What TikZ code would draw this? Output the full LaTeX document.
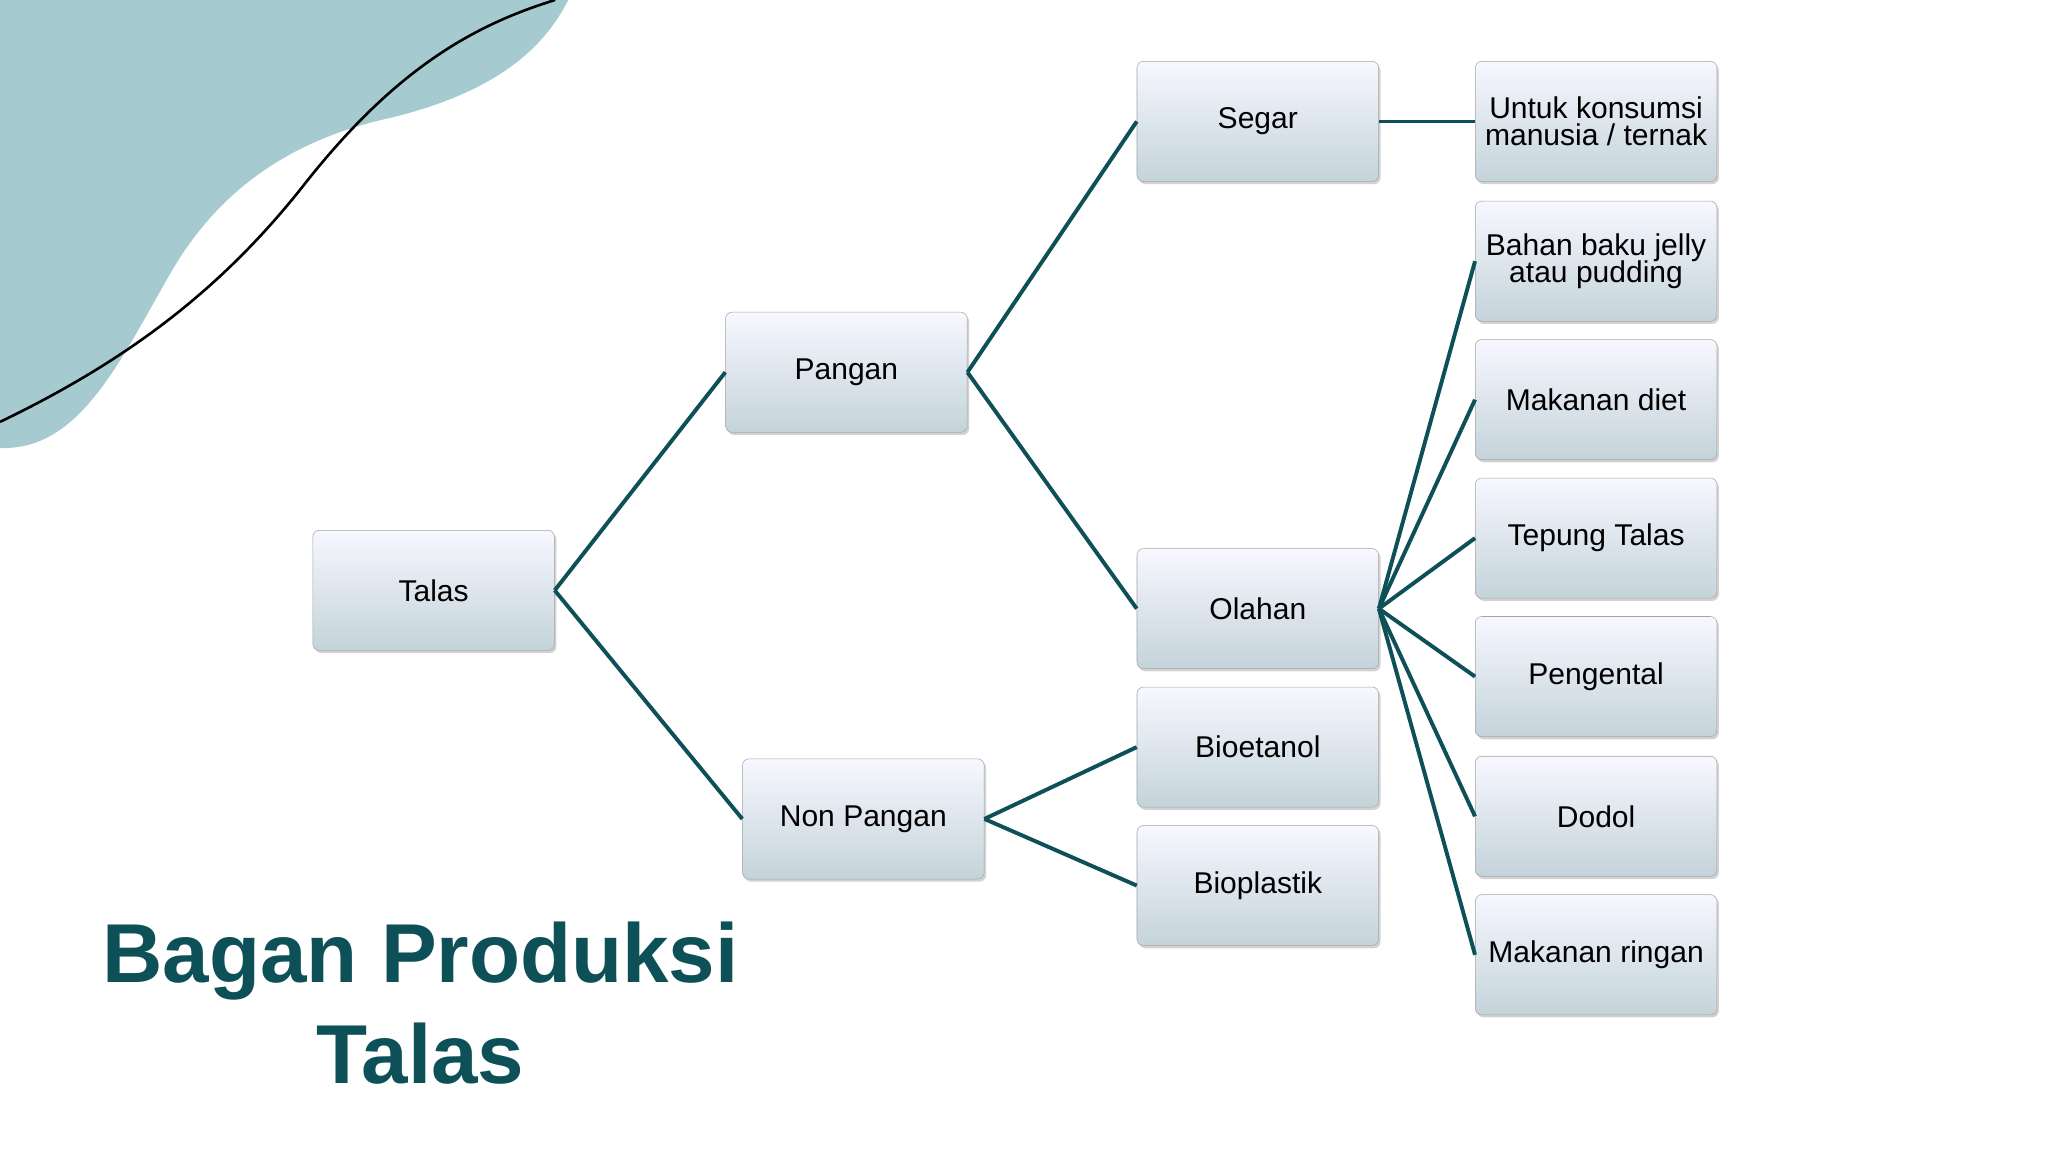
\documentclass[tikz,border=0pt]{standalone}
\usepackage{fontspec}
\setmainfont{Liberation Sans}
\usetikzlibrary{shadows}
\definecolor{teal1}{HTML}{0D5058}
\definecolor{blob}{HTML}{A5CBD0}
\begin{document}
\begin{tikzpicture}[x=1pt,y=-1pt,
 box/.style={draw=gray!70,rounded corners=5pt,minimum width=185pt,minimum height=92pt,top color=white!97!blue,bottom color={rgb,255:red,196;green,211;blue,218},drop shadow={shadow xshift=1.5pt,shadow yshift=-2pt,opacity=0.35},font=\fontsize{23}{25}\selectfont,align=center,inner sep=2pt},
 con/.style={draw=teal1,line width=3pt}]
\useasboundingbox (0,0) rectangle (1568,882);
\fill[white] (0,0) rectangle (1568,882);
\fill[blob] (0,0) -- (435,0) .. controls (410,50) and (360,75) .. (300,90) .. controls (230,105) and (170,140) .. (130,210) .. controls (90,280) and (60,345) .. (0,343) -- cycle;
\draw[black,line width=2pt] (0,323) .. controls (100,275) and (170,220) .. (230,145) .. controls (300,55) and (360,20) .. (425,0);
\node[box] (talas) at (332,452) {Talas};
\node[box] (pangan) at (648,285) {Pangan};
\node[box] (non) at (661,627) {Non Pangan};
\node[box] (segar) at (963,93) {Segar};
\node[box] (olahan) at (963,466) {Olahan};
\node[box] (bioe) at (963,572) {Bioetanol};
\node[box] (biop) at (963,678) {Bioplastik};
\node[box] (r1) at (1222,93) {Untuk konsumsi\\[-4pt]manusia / ternak};
\node[box] (r2) at (1222,200) {Bahan baku jelly\\[-4pt]atau pudding};
\node[box] (r3) at (1222,306) {Makanan diet};
\node[box] (r4) at (1222,412) {Tepung Talas};
\node[box] (r5) at (1222,518) {Pengental};
\node[box] (r6) at (1222,625) {Dodol};
\node[box] (r7) at (1222,731) {Makanan ringan};
\draw[con] (talas.east) -- (pangan.west);
\draw[con] (talas.east) -- (non.west);
\draw[con] (pangan.east) -- (segar.west);
\draw[con] (pangan.east) -- (olahan.west);
\draw[con] (non.east) -- (bioe.west);
\draw[con] (non.east) -- (biop.west);
\draw[con] (segar.east) -- (r1.west);
\foreach \r in {r2,r3,r4,r5,r6,r7} \draw[con] (olahan.east) -- (\r.west);
\node[text=teal1,font=\fontsize{64}{78}\selectfont\bfseries,align=center] (title) at (322,768) {Bagan Produksi\\Talas};
\end{tikzpicture}
\end{document}
